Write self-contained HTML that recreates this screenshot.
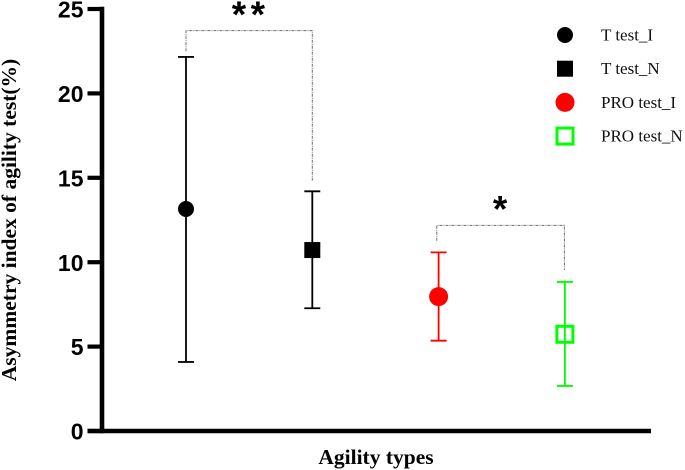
<!DOCTYPE html>
<html>
<head>
<meta charset="utf-8">
<style>
html,body{margin:0;padding:0;background:#fff;}
svg{display:block;}
text{font-family:"Liberation Serif",serif;}
.tick{font-family:"Liberation Sans",sans-serif;font-weight:bold;font-size:23px;}
</style>
</head>
<body>
<svg id="chart" width="685" height="470" viewBox="0 0 685 470" xmlns="http://www.w3.org/2000/svg">
  <text transform="translate(16 220) rotate(-90)" text-anchor="middle" font-weight="bold" font-size="21.5">Asymmetry index of agility test(%)</text>
  <text x="376" y="464" text-anchor="middle" font-weight="bold" font-size="21.5">Agility types</text>
</svg>
<script>
var categories = ['T test_I', 'T test_N', 'PRO test_I', 'PRO test_N'];
var meanValues = [13.15, 10.72, 7.96, 5.73];
var upperValues = [22.16, 14.2, 10.58, 8.83];
var lowerValues = [4.09, 7.27, 5.35, 2.67];
var seriesColors = ['#000000', '#000000', '#ff0000', '#00ff00'];
var seriesShapes = ['circle', 'square', 'circle', 'open-square'];
var yTickValues = [0, 5, 10, 15, 20, 25];
var bracketLeftEnds = [22.5, 11.27];
var bracketRightEnds = [14.77, 9.54];
var bracketTops = [23.72, 12.18];
var bracketPairs = [[0, 1], [2, 3]];
var bracketLabels = ['**', '*'];

var NS = 'http://www.w3.org/2000/svg';
var svg = document.getElementById('chart');

function yScale(v) { return 431 - v * (422 / 25); }
function xScale(i) { return 186 + i * 126.3; }

function make(tag, attrs, parent) {
  var el = document.createElementNS(NS, tag);
  for (var k in attrs) { el.setAttribute(k, attrs[k]); }
  (parent || svg).appendChild(el);
  return el;
}

function drawMarker(shape, color, cx, cy, parent) {
  var el;
  if (shape === 'circle') {
    el = make('circle', { cx: cx, cy: cy, r: color === '#ff0000' ? 9.5 : 8, fill: color }, parent);
  } else if (shape === 'square') {
    el = make('rect', { x: cx - 8, y: cy - 8, width: 16, height: 16, fill: color }, parent);
  } else {
    el = make('rect', { x: cx - 8, y: cy - 8, width: 16, height: 16, fill: 'none', stroke: color, 'stroke-width': 3 }, parent);
  }
  return el;
}

// axes
var yAxis = make('line', { x1: 102, x2: 102, y1: yScale(25) - 2.2, y2: yScale(0) + 2.2, stroke: '#000', 'stroke-width': 4.6 });


var xAxis = make('line', { x1: 87.5, x2: 651, y1: yScale(0), y2: yScale(0), stroke: '#000', 'stroke-width': 4.6 });



yTickValues.forEach(function (v) {
  var mark = make('line', { x1: 87.5, x2: 102, y1: yScale(v), y2: yScale(v), stroke: '#000', 'stroke-width': 4.2 });
  
  
  var label = make('text', { x: 83.5, y: yScale(v) + 8.6, 'text-anchor': 'end', 'class': 'tick' });
  label.textContent = String(v);
  
  
});

// brackets
bracketPairs.forEach(function (pair, i) {
  var xa = xScale(pair[0]) - (i === 1 ? 1.8 : 0);
  var xb = xScale(pair[1]) - (i === 1 ? 0.5 : 0);
  var top = yScale(bracketTops[i]);
  var d = 'M' + xa + ' ' + yScale(bracketLeftEnds[i]) + 'V' + top + 'H' + xb + 'V' + yScale(bracketRightEnds[i]);
  var path = make('path', { d: d, fill: 'none', stroke: '#6e6e6e', 'stroke-width': 1, 'stroke-dasharray': '3 1 1 1' });
  
  
  var star = make('text', {
    x: (xa + xb) / 2 + (i === 0 ? 1.5 : -0.5),
    y: top + (i === 0 ? -3.7 : -4),
    'text-anchor': 'middle',
    'font-weight': 'bold',
    'font-size': 37,
    'letter-spacing': i === 0 ? 4.5 : 0
  });
  star.style.fontFamily = '"Liberation Sans",sans-serif';
  star.textContent = bracketLabels[i];
  
  
});

// series
categories.forEach(function (name, i) {
  var g = make('g', {});
  
  
  var x = xScale(i);
  var c = seriesColors[i];
  var w = 1.8;
  make('line', { x1: x, x2: x, y1: yScale(upperValues[i]), y2: yScale(lowerValues[i]), stroke: c, 'stroke-width': w }, g);
  make('line', { x1: x - 8, x2: x + 8, y1: yScale(upperValues[i]), y2: yScale(upperValues[i]), stroke: c, 'stroke-width': w }, g);
  make('line', { x1: x - 8, x2: x + 8, y1: yScale(lowerValues[i]), y2: yScale(lowerValues[i]), stroke: c, 'stroke-width': w }, g);
  drawMarker(seriesShapes[i], c, x, yScale(meanValues[i]), g);
});

// legend
categories.forEach(function (name, i) {
  var g = make('g', {});
  
  
  var ly = 35 + i * 33.7;
  drawMarker(seriesShapes[i], seriesColors[i], 565, ly, g);
  var t = make('text', { x: 601, y: ly + 5.5, 'font-size': 17, fill: '#111' }, g);
  t.textContent = name;
});
</script>
</body>
</html>
